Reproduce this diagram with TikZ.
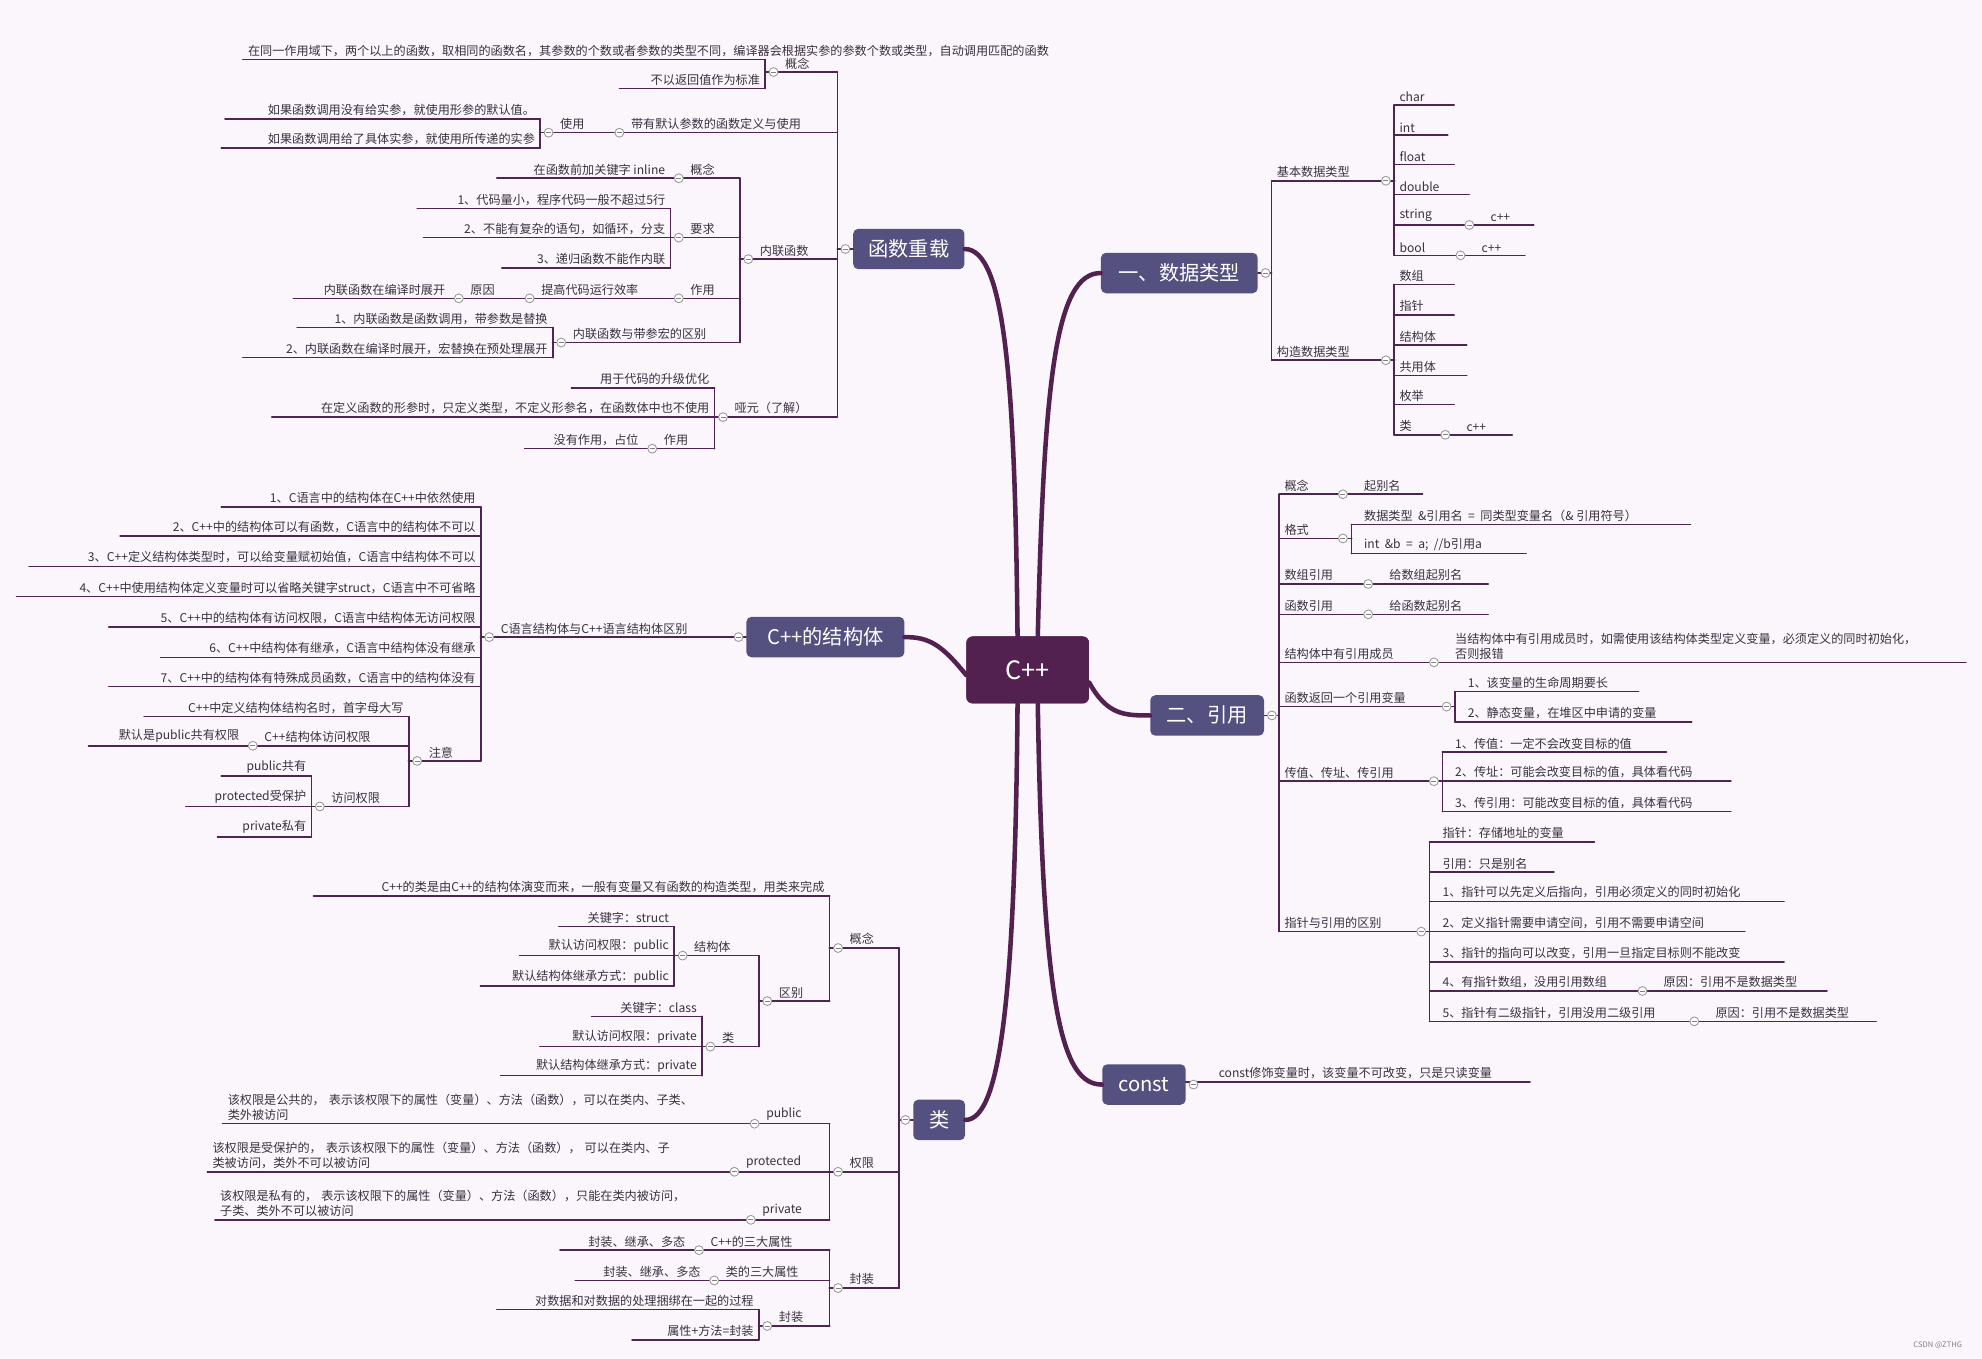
\documentclass[tikz,border=0pt]{standalone}
\usepackage{fontspec}
\setmainfont{Noto Sans CJK SC}
\begin{document}
\definecolor{ln}{HTML}{4F2352}
\definecolor{bx}{HTML}{54507F}
\definecolor{ctr}{HTML}{52214F}
\definecolor{tx}{HTML}{3A3040}
\definecolor{bg}{HTML}{FBF6FB}
\begin{tikzpicture}[x=1pt,y=-1pt,
  lnk/.style={draw=ln,line width=1.2pt,line cap=round},
  br/.style={draw=ctr,line width=3.6pt,line cap=round},
  lf/.style={inner xsep=4pt,inner ysep=2.2pt,text=tx,font=\fontsize{9.6}{12}\selectfont,anchor=south west},
  mb/.style={fill=bx,rounded corners=4pt,text=white,font=\fontsize{16}{18}\selectfont,minimum height=32pt,inner sep=0pt},
  mk/.style={circle,draw=gray!80,fill=white,line width=0.7pt,minimum size=7pt,inner sep=0pt,
    path picture={\draw[gray,line width=0.7pt] ([xshift=-2pt]path picture bounding box.center) -- ([xshift=2pt]path picture bounding box.center);}}]
\newcommand\leafn[6]{\pgfmathsetmacro\tw{#3-#2-8}%
  \node[lf,name=#1] at (#2,#4) {\makebox[\tw pt][#6]{#5}};
  \draw[lnk] (#1.south west) -- (#1.south east);}
\newcommand\leafm[5]{\pgfmathsetmacro\tw{#3-#2-8}%
  \node[lf,name=#1,text width=\tw pt,align=left] at (#2,#4) {#5};
  \draw[lnk] (#1.south west) -- (#1.south east);}
\newcommand\lpar[5]{\pgfmathsetmacro\tw{#3-#2-8}%
  \node[lf,name=#1] at (#2,#4) {\makebox[\tw pt][l]{\hspace*{12pt}#5}};
  \draw[lnk] (#1.south west) -- (#1.south east);
  \node[mk] at ([xshift=7pt]#1.south west) {};}
\newcommand\rpar[5]{\pgfmathsetmacro\tw{#3-#2-8}%
  \node[lf,name=#1] at (#2,#4) {\makebox[\tw pt][l]{#5}};
  \draw[lnk] (#1.south west) -- (#1.south east);
  \node[mk] at ([xshift=-7pt]#1.south east) {};}
\fill[bg] (0,0) rectangle (1568,1075);
\useasboundingbox (0,0) rectangle (1568,1075);

% ---------- centre & main topics
\node[fill=ctr,rounded corners=5pt,text=white,font=\fontsize{20}{22}\selectfont,minimum width=97pt,minimum height=53pt,inner sep=0pt] (cpp) at (813,530) {C++};
\node[mb,minimum width=88pt] (hz) at (719,197) {函数重载};
\node[mb,minimum width=125pt] (st) at (653,504) {C++的结构体};
\node[mb,minimum width=41pt] (lei) at (743,886) {类};
\node[mb,minimum width=124pt] (sj) at (933,216) {一、数据类型};
\node[mb,minimum width=90pt] (yy) at (955,566) {二、引用};
\node[mb,minimum width=66pt] (cst) at (905,858) {const};
\begin{scope}[on background layer/.style={}]
\draw[br] ([xshift=-8pt]cpp.north) .. controls (803,300) and (795,197) .. (hz.east);
\draw[br] ([xshift=8pt]cpp.north) .. controls (826,300) and (835,216) .. (sj.west);
\draw[br] ([yshift=-4pt]cpp.west) .. controls (745,510) and (735,504) .. (st.east);
\draw[br] ([yshift=-10pt]cpp.east) .. controls (876,566) and (890,566) .. (yy.west);
\draw[br] ([xshift=-8pt]cpp.south) .. controls (803,800) and (790,886) .. (lei.east);
\draw[br] ([xshift=8pt]cpp.south) .. controls (825,800) and (840,858) .. (cst.west);
\end{scope}
\node[fill=ctr,rounded corners=5pt,text=white,font=\fontsize{20}{22}\selectfont,minimum width=97pt,minimum height=53pt,inner sep=0pt] at (813,530) {C++};

% ---------- 函数重载
\lpar{gn}{605}{662}{57}{概念}
\leafm{gn1}{192}{605}{47}{在同一作用域下，两个以上的函数，取相同的函数名，其参数的个数或者参数的类型不同，编译器会根据实参的参数个数或类型，自动调用匹配的函数}
\leafn{gn2}{490}{605}{70}{不以返回值作为标准}{r}
\draw[lnk] (gn1.south east) -- (gn2.south east);
\lpar{dm}{483}{662}{105}{带有默认参数的函数定义与使用}
\lpar{sy}{427}{483}{105}{使用}
\leafn{sy1}{178}{427}{94}{如果函数调用没有给实参，就使用形参的默认值。}{r}
\leafn{sy2}{175}{427}{117}{如果函数调用给了具体实参，就使用所传递的实参}{r}
\draw[lnk] (sy1.south east) -- (sy2.south east);
\lpar{nl}{585}{662}{205}{内联函数}
\lpar{nl1}{530}{585}{141}{概念}
\leafn{nl1a}{393}{530}{141}{在函数前加关键字 inline}{r}
\lpar{nl2}{530}{585}{188}{要求}
\leafn{nl2a}{330}{530}{165}{1、代码量小，程序代码一般不超过5行}{r}
\leafn{nl2b}{335}{530}{188}{2、不能有复杂的语句，如循环，分支}{r}
\leafn{nl2c}{397}{530}{212}{3、递归函数不能作内联}{r}
\draw[lnk] (nl2a.south east) -- (nl2c.south east);
\lpar{nl3}{530}{585}{236}{作用}
\lpar{nl3a}{412}{530}{236}{提高代码运行效率}
\lpar{nl3b}{356}{412}{236}{原因}
\leafn{nl3c}{232}{356}{236}{内联函数在编译时展开}{r}
\lpar{nl4}{437}{585}{271}{内联函数与带参宏的区别}
\leafn{nl4a}{235}{437}{259}{1、内联函数是函数调用，带参数是替换}{r}
\leafn{nl4b}{192}{437}{283}{2、内联函数在编译时展开，宏替换在预处理展开}{r}
\draw[lnk] (nl4a.south east) -- (nl4b.south east);
\draw[lnk] (nl1.south east) -- (nl4.south east);
\lpar{ym}{565}{662}{330}{哑元（了解）}
\leafn{ym1}{452}{565}{307}{用于代码的升级优化}{r}
\leafn{ym2}{215}{565}{330}{在定义函数的形参时，只定义类型，不定义形参名，在函数体中也不使用}{r}
\lpar{ym3}{509}{565}{355}{作用}
\leafn{ym3a}{415}{509}{355}{没有作用，占位}{r}
\draw[lnk] (ym1.south east) -- (ym3.south east);
\draw[lnk] (gn.south east) -- (ym.south east);
\draw[lnk] (hz.west) -- (hz.west -| gn.south east);
\node[mk] at ([xshift=-6pt]hz.west) {};

% ---------- C++的结构体
\lpar{cs}{380}{585}{504}{C语言结构体与C++语言结构体区别}
\draw[lnk] (cs.south east) -- (st.west);
\node[mk] at ([xshift=-6pt]st.west) {};
\leafn{cs1}{175}{380}{401}{1、C语言中的结构体在C++中依然使用}{r}
\leafn{cs2}{95}{380}{424}{2、C++中的结构体可以有函数，C语言中的结构体不可以}{r}
\leafn{cs3}{23}{380}{448}{3、C++定义结构体类型时，可以给变量赋初始值，C语言中结构体不可以}{r}
\leafn{cs4}{13}{380}{472}{4、C++中使用结构体定义变量时可以省略关键字struct，C语言中不可省略}{r}
\leafn{cs5}{86}{380}{496}{5、C++中的结构体有访问权限，C语言中结构体无访问权限}{r}
\leafn{cs6}{127}{380}{520}{6、C++中结构体有继承，C语言中结构体没有继承}{r}
\leafn{cs7}{86}{380}{543}{7、C++中的结构体有特殊成员函数，C语言中的结构体没有}{r}
\lpar{zy}{323}{380}{602}{注意}
\draw[lnk] (cs1.south east) -- (zy.south east);
\leafn{zy1}{114}{323}{567}{C++中定义结构体结构名时，首字母大写}{r}
\lpar{zy2}{193}{323}{590}{C++结构体访问权限}
\leafn{zy2a}{70}{193}{590}{默认是public共有权限}{r}
\lpar{zy3}{246}{323}{638}{访问权限}
\draw[lnk] (zy1.south east) -- (zy3.south east);
\leafn{zy3a}{175}{246}{614}{public共有}{r}
\leafn{zy3b}{147}{246}{638}{protected受保护}{r}
\leafn{zy3c}{172}{246}{662}{private私有}{r}
\draw[lnk] (zy3a.south east) -- (zy3c.south east);

% ---------- 类
\lpar{cg}{656}{711}{750}{概念}
\leafn{cg1}{248}{656}{709}{C++的类是由C++的结构体演变而来，一般有变量又有函数的构造类型，用类来完成}{r}
\lpar{qb}{600}{656}{792}{区别}
\draw[lnk] (cg1.south east) -- (qb.south east);
\lpar{jg}{533}{600}{756}{结构体}
\leafn{jg1}{442}{533}{733}{关键字：struct}{r}
\leafn{jg2}{411}{533}{756}{默认访问权限：public}{r}
\leafn{jg3}{380}{533}{780}{默认结构体继承方式：public}{r}
\draw[lnk] (jg1.south east) -- (jg3.south east);
\lpar{lc}{555}{600}{828}{类}
\leafn{lc1}{468}{555}{804}{关键字：class}{r}
\leafn{lc2}{427}{555}{828}{默认访问权限：private}{r}
\leafn{lc3}{396}{555}{851}{默认结构体继承方式：private}{r}
\draw[lnk] (lc1.south east) -- (lc3.south east);
\draw[lnk] (jg.south east) -- (lc.south east);
\lpar{qx}{656}{711}{927}{权限}
\lpar{pub}{590}{656}{889}{public}
\leafm{pubt}{176}{590}{889}{该权限是公共的，\ 表示该权限下的属性（变量）、方法（函数），可以在类内、子类、\\类外被访问}
\lpar{pro}{574}{656}{927}{protected}
\leafm{prot}{164}{574}{927}{该权限是受保护的，\ 表示该权限下的属性（变量）、方法（函数），\ 可以在类内、子\\类被访问，类外不可以被访问}
\lpar{pri}{587}{656}{965}{private}
\leafm{prit}{170}{587}{965}{该权限是私有的，\ 表示该权限下的属性（变量）、方法（函数），只能在类内被访问，\\子类、类外不可以被访问}
\draw[lnk] (pub.south east) -- (pri.south east);
\lpar{fz}{656}{711}{1019}{封装}
\lpar{sx1}{546}{656}{989}{C++的三大属性}
\leafn{sx1a}{443}{546}{989}{封装、继承、多态}{r}
\lpar{sx2}{558}{656}{1013}{类的三大属性}
\leafn{sx2a}{455}{558}{1013}{封装、继承、多态}{r}
\lpar{fz2}{600}{656}{1049}{封装}
\leafn{fz2a}{393}{600}{1036}{对数据和对数据的处理捆绑在一起的过程}{r}
\leafn{fz2b}{500}{600}{1060}{属性+方法=封装}{r}
\draw[lnk] (fz2a.south east) -- (fz2b.south east);
\draw[lnk] (sx1.south east) -- (fz2.south east);
\draw[lnk] (cg.south east) -- (fz.south east);
\draw[lnk] (lei.west) -- (lei.west -| cg.south east);
\node[mk] at ([xshift=-6pt]lei.west) {};

% ---------- 一、数据类型
\rpar{jb}{1006}{1103}{143}{基本数据类型}
\leafn{d1}{1103}{1150}{83}{char}{l}
\leafn{d2}{1103}{1145}{107}{int}{l}
\leafn{d3}{1103}{1150}{130}{float}{l}
\leafn{d4}{1103}{1162}{154}{double}{l}
\rpar{d5}{1103}{1169}{178}{string}
\leafn{d5a}{1169}{1213}{178}{\hspace*{6pt}c++}{l}
\rpar{d6}{1103}{1162}{202}{bool}
\leafn{d6a}{1162}{1206}{202}{\hspace*{6pt}c++}{l}
\draw[lnk] (d1.south west) -- (d6.south west);
\rpar{gz}{1006}{1103}{285}{构造数据类型}
\leafn{e1}{1103}{1150}{225}{数组}{l}
\leafn{e2}{1103}{1150}{249}{指针}{l}
\leafn{e3}{1103}{1160}{273}{结构体}{l}
\leafn{e4}{1103}{1160}{297}{共用体}{l}
\leafn{e5}{1103}{1150}{320}{枚举}{l}
\rpar{e6}{1103}{1150}{344}{类}
\leafn{e6a}{1150}{1196}{344}{\hspace*{6pt}c++}{l}
\draw[lnk] (e1.south west) -- (e6.south west);
\draw[lnk] (jb.south west) -- (gz.south west);
\draw[lnk] (sj.east) -- (sj.east -| jb.south west);
\node[mk] at ([xshift=6pt]sj.east) {};

% ---------- 二、引用
\rpar{r1}{1012}{1069}{391}{概念}
\leafn{r1a}{1069}{1125}{391}{\hspace*{6pt}起别名}{l}
\rpar{r2}{1012}{1069}{426}{格式}
\leafn{r2a}{1069}{1337}{415}{\hspace*{6pt}数据类型 \ \&引用名 \ = \ 同类型变量名（\& 引用符号）}{l}
\leafn{r2b}{1069}{1207}{438}{\hspace*{6pt}int \ \&b \ = \ a; \ //b引用a}{l}
\draw[lnk] (r2a.south west) -- (r2b.south west);
\rpar{r3}{1012}{1089}{462}{数组引用}
\leafn{r3a}{1089}{1177}{462}{\hspace*{6pt}给数组起别名}{l}
\rpar{r4}{1012}{1089}{486}{函数引用}
\leafn{r4a}{1089}{1177}{486}{\hspace*{6pt}给函数起别名}{l}
\rpar{r5}{1012}{1141}{524}{结构体中有引用成员}
\leafm{r5a}{1141}{1555}{524}{\hspace*{6pt}当结构体中有引用成员时，如需使用该结构体类型定义变量，必须定义的同时初始化，\\\hspace*{6pt}否则报错}
\rpar{r6}{1012}{1151}{559}{函数返回一个引用变量}
\leafn{r6a}{1151}{1296}{547}{\hspace*{6pt}1、该变量的生命周期要长}{l}
\leafn{r6b}{1151}{1338}{571}{\hspace*{6pt}2、静态变量，在堆区中申请的变量}{l}
\draw[lnk] (r6a.south west) -- (r6b.south west);
\rpar{r7}{1012}{1141}{618}{传值、传址、传引用}
\leafn{r7a}{1141}{1318}{595}{\hspace*{6pt}1、传值：一定不会改变目标的值}{l}
\leafn{r7b}{1141}{1369}{618}{\hspace*{6pt}2、传址：可能会改变目标的值，具体看代码}{l}
\leafn{r7c}{1141}{1369}{642}{\hspace*{6pt}3、传引用：可能改变目标的值，具体看代码}{l}
\draw[lnk] (r7a.south west) -- (r7c.south west);
\rpar{r8}{1012}{1131}{737}{指针与引用的区别}
\leafn{r8a}{1131}{1261}{666}{\hspace*{6pt}指针：存储地址的变量}{l}
\leafn{r8b}{1131}{1229}{690}{\hspace*{6pt}引用：只是别名}{l}
\leafn{r8c}{1131}{1411}{713}{\hspace*{6pt}1、指针可以先定义后指向，引用必须定义的同时初始化}{l}
\leafn{r8d}{1131}{1380}{737}{\hspace*{6pt}2、定义指针需要申请空间，引用不需要申请空间}{l}
\leafn{r8e}{1131}{1411}{761}{\hspace*{6pt}3、指针的指向可以改变，引用一旦指定目标则不能改变}{l}
\rpar{r8f}{1131}{1306}{784}{\hspace*{6pt}4、有指针数组，没用引用数组}
\leafn{r8fa}{1306}{1445}{784}{\hspace*{6pt}原因：引用不是数据类型}{l}
\rpar{r8g}{1131}{1347}{808}{\hspace*{6pt}5、指针有二级指针，引用没用二级引用}
\leafn{r8ga}{1347}{1484}{808}{\hspace*{6pt}原因：引用不是数据类型}{l}
\draw[lnk] (r8a.south west) -- (r8g.south west);
\draw[lnk] (r1.south west) -- (r8.south west);
\draw[lnk] (yy.east) -- (yy.east -| r1.south west);
\node[mk] at ([xshift=6pt]yy.east) {};

% ---------- const
\leafn{ct}{938}{1210}{856}{\hspace*{22pt}const修饰变量时，该变量不可改变，只是只读变量}{l}
\node[mk] at ([xshift=6pt]cst.east) {};

\node[text=gray,font=\fontsize{6}{7}\selectfont] (wm) at (1533,1064) {CSDN @ZTHG};
\end{tikzpicture}
\end{document}
